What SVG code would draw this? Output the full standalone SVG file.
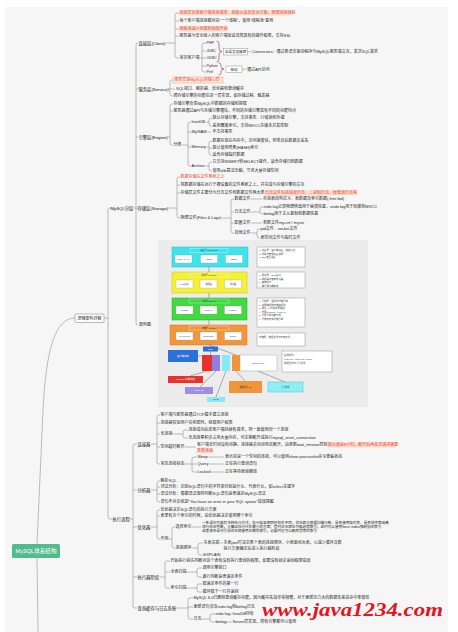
<svg xmlns="http://www.w3.org/2000/svg" width="458" height="632" viewBox="0 0 458 632">
<style>
text{font-family:"Liberation Sans","Noto Sans CJK SC",sans-serif;font-size:4px;fill:#262626}
.h{font-size:4.3px;fill:#111}
.k{font-size:3.6px}
.r{fill:#e5452b}
.c{fill:none;stroke:#8a8a8a;stroke-width:0.55}
.br{fill:none;stroke:#9c2a35;stroke-width:0.6}
.hl{fill:#fcdccd}
.box{fill:#fff;stroke:#888;stroke-width:0.45}
.ib{fill:#fff;stroke:#999;stroke-width:0.3}
.s{font-size:2.4px;fill:#444}
.sw{font-size:2.4px;fill:#fff}
.si{font-size:2.1px;fill:#333}
.ln{fill:none;stroke:#555;stroke-width:0.45}
.wm{font-family:"Liberation Serif",serif;font-style:italic;font-weight:bold;font-size:19px;fill:#e3141c}
</style>
<rect width="458" height="632" fill="#fff"/>
<rect x="5" y="7" width="443" height="625" fill="#f6f6f6"/>

<g id="connectors">
<path class="c" d="M75 318 C55 318 46 350 43 410 L37 544"/>
<path class="c" d="M37 558 L38 632"/>
<path class="c" d="M104 318 H108"/>
<path class="c" d="M110.5 208 H110 Q108 208 108 210 V517 Q108 519 110 519 H112"/>
<path class="c" d="M133.5 208 H136"/>
<path class="c" d="M138 43 Q136 43 136 45 V323 Q136 325 138 325 M136 89 H138 M136 137 H138 M136 208 H138"/>
<path class="c" d="M166 43 H175"/>
<path class="c" d="M179 13 H177 Q175 13 175 15 V56 Q175 58 177 58 H179 M175 21 H179 M175 29 H179 M175 36 H179"/>
<path class="c" d="M200 58 H202"/>
<path class="c" d="M206 43 H204 Q202 43 202 45 V70 Q202 72 204 72 H206 M202 51 H206 M202 58 H206 M202 66 H206"/>
<path class="c" d="M247.5 51.75 H251 M242 69.25 H246"/>
<path class="c" d="M168 89 H170 M173 80 H172 Q170 80 170 82 V94 Q170 96 172 96 H173 M170 89 H175"/>
<path class="c" d="M167.5 137 H170 M173 104 H172 Q170 104 170 106 V143 Q170 145 172 145 H173 M170 111 H173"/>
<path class="c" d="M182 145 H188 M191 122 H190 Q188 122 188 124 V164 Q188 166 190 166 H191 M188 132 H191 M188 147 H191"/>
<path class="c" d="M205.5 122 H209 M212 118 H211 Q209 118 209 120 V124 Q209 126 211 126 H212"/>
<path class="c" d="M207 132 H211"/>
<path class="c" d="M206.5 147 H209 M212 141 H211 Q209 141 209 143 V153 Q209 155 211 155 H212 M209 148 H212"/>
<path class="c" d="M205.5 166 H209 M212 162 H211 Q209 162 209 164 V169 Q209 171 211 171 H212"/>
<path class="c" d="M168.5 208 H177 M180 177 H179 Q177 177 177 179 V216 Q177 218 179 218 H180 M177 185 H180 M177 193 H180"/>
<path class="c" d="M221.5 218 H231 M234 199 H233 Q231 199 231 201 V231 Q231 233 233 233 H234 M231 212 H234 M231 223 H234"/>
<path class="c" d="M251 199 H262"/>
<path class="c" d="M251 212 H260 M263 207 H262 Q260 207 260 209 V212 Q260 214 262 214 H263"/>
<path class="c" d="M251 223 H262"/>
<path class="c" d="M251 233 H257 M260 229 H259 Q257 229 257 231 V236 Q257 238 259 238 H260"/>
<path class="c" d="M130 519 H133 M137 444 H135 Q133 444 133 446 V606 Q133 608 135 608 H137 M133 490 H137 M133 527 H137 M133 577 H137"/>
<path class="c" d="M151 444 H157 M160 415 H159 Q157 415 157 417 V462 Q157 464 159 464 H160 M157 423 H160 M157 434 H160 M157 447 H160"/>
<path class="c" d="M172.5 434 H183 M188 430 H185 Q183 430 183 432 V436 Q183 438 185 438 H188"/>
<path class="c" d="M184.5 447 H196"/>
<path class="c" d="M184.5 464 H192 M197 457 H194 Q192 457 192 459 V470 Q192 472 194 472 H197 M192 464 H197"/>
<path class="c" d="M208.5 457 H224 M209 464 H224 M211 472 H224"/>
<path class="c" d="M151 490 H157 M160 481 H159 Q157 481 157 483 V500 Q157 502 159 502 H160 M157 487 H160 M157 494 H160"/>
<path class="c" d="M151 527 H157 M160 510 H159 Q157 510 157 512 V537 Q157 539 159 539 H160 M157 516 H160"/>
<path class="c" d="M168.5 539 H172 M175 527 H174 Q172 527 172 529 V546 Q172 548 174 548 H175"/>
<path class="c" d="M192 527 H201"/>
<path class="c" d="M192 548 H198 M203 543 H200 Q198 543 198 545 V553 Q198 555 200 555 H203"/>
<path class="c" d="M220 543 H223"/>
<path class="c" d="M159.5 577 H165 M170 561 H167 Q165 561 165 563 V586 Q165 588 167 588 H170 M165 572 H170"/>
<path class="c" d="M186.5 572 H197 M202 568 H199 Q197 568 197 570 V575 Q197 577 199 577 H202"/>
<path class="c" d="M186.5 588 H197 M202 584 H199 Q197 584 197 586 V590 Q197 592 199 592 H202"/>
<path class="c" d="M176.5 608 H188 M193 598 H190 Q188 598 188 600 V617 Q188 619 190 619 H193 M188 607 H193"/>
<path class="c" d="M201.5 619 H210 M215 614 H212 Q210 614 210 616 V620 Q210 622 212 622 H215"/>
<path class="c" d="M230 614 H232 M226 622 H232"/>
<path class="br" d="M216.5 41 Q219 41 219 44 V48.5 Q219 51.5 222 51.5 Q219 51.5 219 54.5 V59 Q219 62 216.5 62"/>
<path class="br" d="M218.5 63 Q221 63 221 65.5 V66.5 Q221 69 224 69 Q221 69 221 71.5 V72.5 Q221 75 218.5 75"/>
</g>

<g id="root">
<rect x="12" y="544" width="48" height="14" rx="1.5" fill="#52bb8b"/>
<text x="36" y="553" text-anchor="middle" style="font-size:5.6px;fill:#fff">MySQL体系结构</text>
</g>

<g id="n-arch">
<rect x="75" y="314" width="29" height="8.5" rx="1" fill="#fff" stroke="#777" stroke-width="0.5"/>
<text x="89.5" y="319.7" text-anchor="middle">逻辑架构详解</text>
</g>

<g id="n-layers"><text class="h" x="110.5" y="209.5">MySQL分层</text></g>

<g id="n-client">
<text class="h" x="138.5" y="44.5">连接层(Client)</text>
<rect class="hl" x="179" y="10.4" width="113" height="5"/>
<text class="r" x="179.5" y="14.4">连接层负责客户端连接请求、授权认证及安全方案，管理连接线程</text>
<text x="179.5" y="22.4">每个客户端连接都对应"一个线程"，使用"线程池"复用</text>
<rect class="hl" x="179" y="26.4" width="49" height="5"/>
<text class="r" x="179.5" y="30.4">线程池减少创建和销毁开销</text>
<text x="179.5" y="37.4">服务器为安全接入的客户端验证其所具有的操作权限，支持SSL</text>
<text x="179.5" y="59.4">常见客户端</text>
<text class="k" x="206.5" y="44.3">PHP</text>
<text class="k" x="206.5" y="52.3">JDBC</text>
<text class="k" x="206.5" y="59.3">ODBC</text>
<text class="k" x="206.5" y="67.3">Python</text>
<text class="k" x="206.5" y="73.3">Perl</text>
<rect class="box" x="223.5" y="48.5" width="24" height="6.5"/>
<text class="k" x="235.5" y="53" text-anchor="middle">各语言连接器</text>
<text x="252" y="53.2">Connectors：通过各语言驱动程序与MySQL服务端交互，发送SQL请求</text>
<rect class="box" x="226" y="66" width="16" height="6.5"/>
<text class="k" x="234" y="70.5" text-anchor="middle">驱动</text>
<text x="247" y="70.7">通过API访问</text>
</g>

<g id="n-service">
<text class="h" x="138.5" y="90.5">服务层(Service)</text>
<rect x="173" y="77" width="50" height="6" fill="#fdebe2" stroke="#f08a5d" stroke-width="0.4"/>
<text class="r" x="174.5" y="81.4">服务层是MySQL的核心层</text>
<text x="176" y="90.4">SQL接口、解析器、优化器和查询缓存</text>
<text x="173.5" y="97.4">跨存储引擎的功能在这一层实现，如存储过程、触发器</text>
</g>

<g id="n-engine">
<text class="h" x="138.5" y="138.5">引擎层(Engine)</text>
<text x="173.5" y="105.4">存储引擎负责MySQL中数据的存储和提取</text>
<text x="173.5" y="112.4">服务器通过API与存储引擎通信，不同的存储引擎具有不同的功能特点</text>
<text x="173.5" y="146.4">分类</text>
<text x="191.5" y="123.4">InnoDB</text>
<text x="212.5" y="119.4">默认存储引擎，支持事务、行级锁和外键</text>
<text x="212.5" y="127.4">采用聚簇索引，支持MVCC多版本并发控制</text>
<text x="191.5" y="133.4">MyISAM</text>
<text x="212.5" y="133.4">不支持事务</text>
<text x="191.5" y="148.4">Memory</text>
<text x="212.5" y="142.4">数据存放在内存中，访问速度快，但重启后数据会丢失</text>
<text x="212.5" y="149.4">默认使用哈希(HASH)索引</text>
<text x="212.5" y="156.4">适合存储临时数据</text>
<text x="191.5" y="167.4">Archive</text>
<text x="212.5" y="163.4">只支持INSERT和SELECT操作，适合存储归档数据</text>
<text x="212.5" y="172.4">使用zlib算法压缩，节省大量存储空间</text>
</g>

<g id="n-storage">
<text class="h" x="137.5" y="209.5">存储层(Storage)</text>
<text class="r" x="180.5" y="178.4">数据存储在文件系统之上</text>
<text x="180.5" y="186.4">将数据存储在运行于裸设备的文件系统之上，并完成与存储引擎的交互</text>
<text x="180.5" y="194.4">存储层文件主要分为日志文件和数据文件两大类，</text>
<rect class="hl" x="264.5" y="190.5" width="93" height="5"/>
<text class="r" x="265" y="194.4">日志文件包括错误日志、二进制日志、慢查询日志等</text>
<text x="180.5" y="219.4">物理文件(Files &amp; Logs)</text>
<text x="234.5" y="200.4">数据文件</text>
<text x="263" y="200.4">存放表结构定义、表数据及索引数据(.frm/.ibd)</text>
<text x="234.5" y="213.4">日志文件</text>
<text x="263.5" y="208.4">redo log记录物理修改用于崩溃恢复，undo log用于回滚和MVCC</text>
<text x="263.5" y="215.4">binlog用于主从复制和数据恢复</text>
<text x="234.5" y="224.4">配置文件</text>
<text x="263" y="224.4">参数文件my.cnf / my.ini</text>
<text x="234.5" y="234.4">其他文件</text>
<text x="260.5" y="230.4">pid文件、socket文件</text>
<text x="260.5" y="239.4">表空间文件与临时文件</text>
</g>

<g id="n-diagram"><text x="139" y="326.4">架构图</text></g>

<g id="arch-image">
<rect x="158" y="240" width="210" height="167" fill="#ececec"/>
<rect x="172" y="247" width="76" height="20" fill="#3fe3ec" stroke="#27b7c4" stroke-width="0.5"/>
<rect x="190" y="248.2" width="38" height="4" fill="none" stroke="#fff" stroke-width="0.3"/>
<text class="si" x="209" y="251" text-anchor="middle">连接层 Connectors</text>
<rect class="ib" x="175" y="255" width="17" height="8"/><rect class="ib" x="200.5" y="255" width="17" height="8"/><rect class="ib" x="225.5" y="255" width="17" height="8"/>
<text class="si" x="183.5" y="259.7" text-anchor="middle">Native C API</text>
<text class="si" x="209" y="259.7" text-anchor="middle">JDBC</text>
<text class="si" x="234" y="259.7" text-anchor="middle">ODBC</text>
<rect x="172" y="272" width="75" height="21" fill="#f6f034" stroke="#c8c020" stroke-width="0.5"/>
<rect x="189" y="273" width="40" height="4" fill="none" stroke="#fff" stroke-width="0.3"/>
<text class="si" x="209" y="275.9" text-anchor="middle">服务层 Services</text>
<rect class="ib" x="176" y="280" width="17" height="8"/><rect class="ib" x="200" y="280" width="17" height="8"/><rect class="ib" x="224.5" y="280" width="17" height="8"/>
<text class="si" x="184.5" y="284.7" text-anchor="middle">SQL接口</text>
<text class="si" x="208.5" y="284.7" text-anchor="middle">解析器</text>
<text class="si" x="233" y="284.7" text-anchor="middle">优化器</text>
<rect x="172" y="298" width="75" height="22" fill="#42d942" stroke="#2aa62a" stroke-width="0.5"/>
<rect x="189" y="299" width="40" height="4" fill="none" stroke="#fff" stroke-width="0.3"/>
<text class="si" x="209" y="301.9" text-anchor="middle">引擎层 Engines</text>
<rect class="ib" x="176" y="306" width="17" height="8"/><rect class="ib" x="200" y="306" width="17" height="8"/><rect class="ib" x="224.5" y="306" width="17" height="8"/>
<text class="si" x="184.5" y="310.7" text-anchor="middle">InnoDB</text>
<text class="si" x="208.5" y="310.7" text-anchor="middle">MyISAM</text>
<text class="si" x="233" y="310.7" text-anchor="middle">Memory</text>
<rect x="170" y="325" width="77" height="20" fill="#f2963b" stroke="#d0782a" stroke-width="0.5"/>
<rect x="189" y="326" width="40" height="4" fill="none" stroke="#fff" stroke-width="0.3"/>
<text class="si" x="209" y="328.9" text-anchor="middle">存储层 Storage</text>
<rect class="ib" x="176" y="332" width="17" height="8"/><rect class="ib" x="200" y="332" width="17" height="8"/><rect class="ib" x="224.5" y="332" width="17" height="8"/>
<text class="si" x="184.5" y="336.7" text-anchor="middle">File System</text>
<text class="si" x="208.5" y="336.7" text-anchor="middle">Redo/Undo</text>
<text class="si" x="233" y="336.7" text-anchor="middle">Binlog</text>
<path class="ln" d="M209 267 V272 M209 293 V298 M209 320 V325 M209 345 L236 355 M210.5 351.5 V355 M198 356 H202 M207 371 L190 376 M216 371 L200 387 M226 371 L216 397 M236 371 L245 381 M258 371 L285 382"/>
<rect class="box" x="257" y="247" width="48" height="20"/>
<text class="s" x="259" y="251">1. 连接层：客户端连接、授权认证</text>
<text class="s" x="259" y="254.5">2. 线程池管理连接资源</text>
<text class="s" x="259" y="258">3. SSL安全连接</text>
<rect class="box" x="257" y="272" width="48" height="16"/>
<text class="s" x="259" y="276">1. 服务层：SQL接口</text>
<text class="s" x="259" y="279.5">2. 解析器与查询优化器</text>
<text class="s" x="259" y="283">3. 查询缓存</text>
<text class="s" x="259" y="286.5">4. 跨引擎功能实现</text>
<rect class="box" x="257" y="298" width="48" height="29"/>
<text class="s" x="259" y="302">1. 引擎层：插件式存储引擎</text>
<text class="s" x="259" y="305.5">2. 负责数据的存储和提取</text>
<text class="s" x="259" y="309">3. 通过API与服务层通信</text>
<text class="s" x="259" y="312.5">4. 常用InnoDB、MyISAM</text>
<text class="s" x="259" y="316">5. 不同引擎功能不同</text>
<text class="s" x="259" y="319.5">6. 可按表选择存储引擎</text>
<rect class="box" x="257" y="333" width="48" height="13"/>
<text class="s" x="259" y="338">存储层：数据文件与日志文件</text>
<rect x="168" y="350" width="30" height="12" fill="#2b70d6"/>
<text class="sw" x="183" y="356.8" text-anchor="middle">客户端请求</text>
<rect x="203" y="346.5" width="15" height="5" fill="#2b70d6"/>
<text class="sw" x="210.5" y="349.8" text-anchor="middle">SQL</text>
<rect x="202" y="355" width="10" height="16" fill="#e8322b"/>
<rect x="212" y="355" width="8" height="16" fill="#8d7fe3"/>
<rect x="222" y="355" width="8" height="16" fill="#86eaf2"/>
<rect x="232" y="355" width="8" height="16" fill="#f0953a"/>
<rect x="240" y="355" width="37" height="16" fill="#fff" stroke="#999" stroke-width="0.4"/>
<text class="s" x="258.5" y="363.8" text-anchor="middle">Buffer Pool</text>
<rect class="box" x="282" y="351" width="50" height="21"/>
<text class="s" x="284" y="356">磁盘文件：</text>
<text class="s" x="284" y="360">redo log / undo log / binlog</text>
<text class="s" x="284" y="364">数据文件与索引文件</text>
<rect x="168" y="376" width="35" height="7" fill="#e8322b"/>
<text class="sw" x="185.5" y="380.3" text-anchor="middle">redo log 重做日志</text>
<rect x="185" y="387" width="28" height="7" fill="#a08ee6"/>
<text class="sw" x="199" y="391.3" text-anchor="middle">undo log</text>
<rect x="207" y="397" width="18" height="5" fill="#86eaf2"/>
<text class="si" x="216" y="400.3" text-anchor="middle">binlog</text>
<rect x="229" y="381" width="33" height="12" fill="#f0953a"/>
<text class="si" x="245.5" y="387.8" text-anchor="middle">数据文件 .ibd</text>
<rect x="268" y="382" width="35" height="10" fill="#8eeef5" stroke="#3bb" stroke-width="0.4"/>
<text class="si" x="285.5" y="387.8" text-anchor="middle">索引文件</text>
</g>

<g id="n-flow"><text class="h" x="112.5" y="520.5">执行流程</text></g>

<g id="n-connector">
<text class="h" x="137.5" y="445.5">连接器</text>
<text x="160.5" y="416.4">客户端与服务器通过TCP握手建立连接</text>
<text x="160.5" y="424.4">连接器校验用户名和密码，获取用户权限</text>
<text x="160.5" y="435.4">长连接</text>
<text x="188.5" y="431.4">连接成功后若客户端持续有请求，则一直使用同一个连接</text>
<text x="188.5" y="439.4">长连接累积会占用大量内存，可定期断开或执行mysql_reset_connection</text>
<text x="160.5" y="448.4">空闲超时断开</text>
<text x="197" y="446.4">客户端长时间没有动静，连接器会自动将其断开，由参数wait_timeout控制，</text>
<rect class="hl" x="327.5" y="442.5" width="68" height="5"/>
<text class="r" x="328" y="446.4">默认值是8小时，断开后再发送请求需要</text>
<rect class="hl" x="196.5" y="448.5" width="17" height="5"/>
<text class="r" x="197" y="452.4">重新连接</text>
<text x="160.5" y="465.4">常见连接状态</text>
<text x="197.5" y="458.4">Sleep</text>
<text x="225" y="458.4">表示这是一个空闲的连接，可以使用show processlist命令查看状态</text>
<text x="197.5" y="465.4">Query</text>
<text x="225" y="465.4">正在执行查询语句</text>
<text x="197.5" y="473.4">Locked</text>
<text x="225" y="473.4">正在等待表锁释放</text>
</g>

<g id="n-parser">
<text class="h" x="137.5" y="491.5">分析器</text>
<text x="160.5" y="482.4">解析SQL</text>
<text x="160.5" y="488.4">词法分析：识别SQL语句中的字符串分别是什么、代表什么，如select关键字</text>
<text x="160.5" y="495.4">语法分析：根据语法规则判断SQL语句是否满足MySQL语法</text>
<text x="160.5" y="503.4">语句不对会收到"You have an error in your SQL syntax"错误提醒</text>
</g>

<g id="n-optimizer">
<text class="h" x="137.5" y="528.5">优化器</text>
<text x="160.5" y="511.4">优化器决定SQL语句的执行方案</text>
<text x="160.5" y="517.4">表里有多个索引的时候，由优化器决定使用哪个索引</text>
<text x="160.5" y="540.4">作用</text>
<text x="175.5" y="528.4">选择索引</text>
<text class="k" x="202" y="524">一条语句可能有多种执行方式，执行结果相同但效率不同，优化器会根据扫描行数、是否使用临时表、是否排序等因素</text>
<text class="k" x="202" y="528.2">进行综合判断，计算出执行代价最小的方案；有时优化器也可能选错索引，这时可以使用force index强制指定索引</text>
<text class="k" x="202" y="532.4">或者修改语句引导优化器使用正确的索引，必要时还可以删除误用的索引</text>
<text x="175.5" y="549.4">连接顺序</text>
<text x="203.5" y="544.4">多表关联</text>
<text x="223.5" y="544.4">多表join时决定各个表的连接顺序，小表驱动大表，以减少循环次数</text>
<text x="223.5" y="549.6">执行方案确定后进入执行器阶段</text>
<text x="203.5" y="556.4">EXPLAIN</text>
</g>

<g id="n-executor">
<text class="h" x="137.5" y="578.5">执行器阶段</text>
<text x="170.5" y="562.4">开始执行前先判断对这个表有没有执行查询的权限，如果没有就会返回权限错误</text>
<text x="170.5" y="573.4">全表扫描</text>
<text x="202.5" y="569.4">调用引擎接口</text>
<text x="202.5" y="578.4">逐行判断是否满足条件</text>
<text x="170.5" y="589.4">索引扫描</text>
<text x="202.5" y="585.4">取满足条件的第一行</text>
<text x="202.5" y="593.4">循环取下一行并返回</text>
</g>

<g id="n-cache-log">
<text class="h" x="137.5" y="609.5">查询缓存与日志系统</text>
<text x="193.5" y="599.4">MySQL 8.0已删除查询缓存功能，因为缓存失效非常频繁，对于更新压力大的数据库来说命中率很低</text>
<text x="193.5" y="608.4">更新语句涉及redo log和binlog日志</text>
<text x="193.5" y="620.4">日志</text>
<text x="215.5" y="615.4">redo log</text>
<text x="232.5" y="615.4">InnoDB特有</text>
<text x="215.5" y="623.4">binlog</text>
<text x="232.5" y="623.4">Server层实现，所有引擎都可以使用</text>
</g>

<g id="watermark">
<text class="wm" x="262" y="616" textLength="181" lengthAdjust="spacingAndGlyphs">www.java1234.com</text>
</g>
</svg>
